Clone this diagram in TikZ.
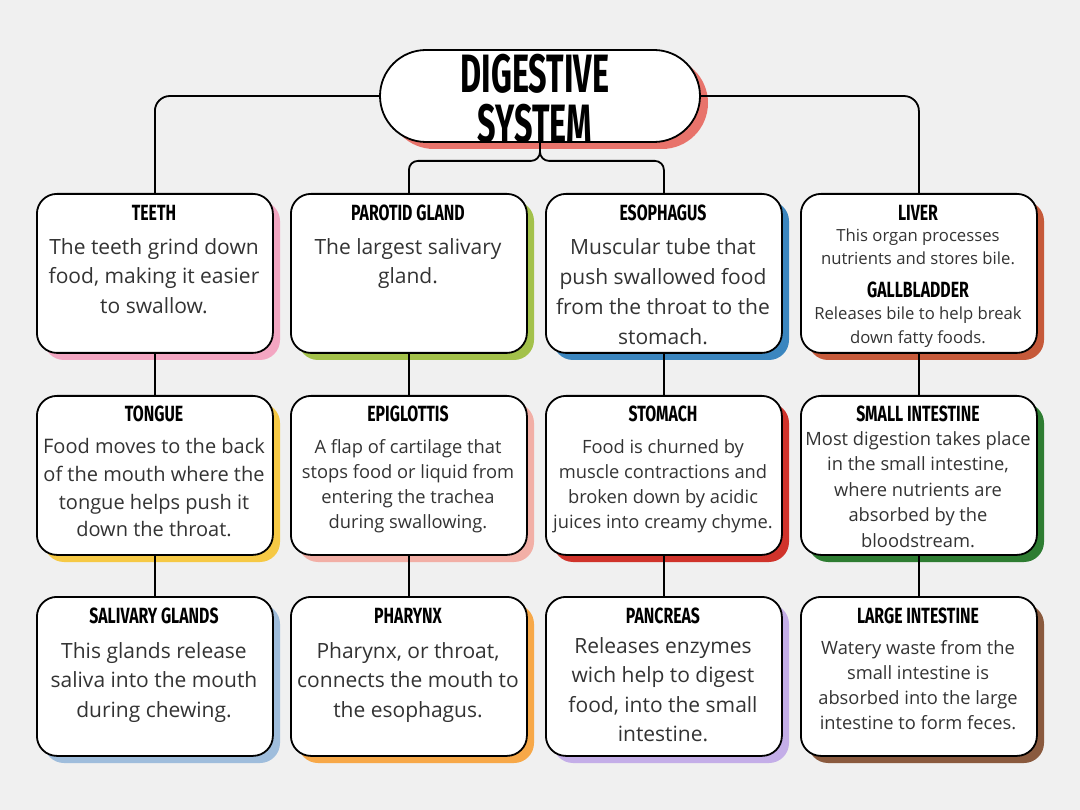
\documentclass[tikz,border=0pt]{standalone}
\usepackage{fontspec}
\setmainfont{Open Sans}
\newfontfamily\headfont[FakeStretch=0.72]{Fira Sans}
\newfontfamily\titlefont[FakeStretch=0.6]{Fira Sans}
\definecolor{bgcol}{HTML}{F0F0F0}
\definecolor{txtgray}{HTML}{333333}
\definecolor{ctitle}{HTML}{E8736B}
\definecolor{cteeth}{HTML}{F3A6C2}
\definecolor{cparotid}{HTML}{A3C14A}
\definecolor{cesoph}{HTML}{3B86BF}
\definecolor{cliver}{HTML}{C65A3A}
\definecolor{ctongue}{HTML}{F6C945}
\definecolor{cepi}{HTML}{F2AFA6}
\definecolor{cstomach}{HTML}{D0332B}
\definecolor{csmall}{HTML}{2E7D32}
\definecolor{csaliv}{HTML}{9FBDDC}
\definecolor{cpharynx}{HTML}{F7A848}
\definecolor{cpancreas}{HTML}{C4AEE8}
\definecolor{clarge}{HTML}{8A5A3E}
\newcommand\mkcard[4]{%
  \fill[#4, rounded corners=20pt] (#2+8,#3+8) rectangle ++(236,159);
  \node[card] (#1) at (#2,#3) {};}
\begin{document}
\begin{tikzpicture}[x=1pt,y=-1pt,
  card/.style={draw=black, line width=1.8pt, fill=white, rounded corners=20pt,
    minimum width=236pt, minimum height=159pt, anchor=north west, inner sep=0pt},
  conn/.style={draw=black, line width=1.8pt},
  head/.style={font=\headfont\bfseries\fontsize{22}{24}\selectfont, text=black, inner sep=0pt},
  body/.style={align=center, anchor=north, inner sep=0pt, text=txtgray},
  bigtxt/.style={font=\fontsize{21}{29.5}\selectfont},
  tongtxt/.style={font=\fontsize{20}{27.7}\selectfont},
  medtxt/.style={font=\fontsize{18.3}{25}\selectfont}]
\fill[bgcol] (0,0) rectangle (1080,810);
\useasboundingbox (0,0) rectangle (1080,810);

% title
\fill[ctitle, rounded corners=46pt] (388,57) rectangle (708,149);
\node[draw=black, line width=1.8pt, fill=white, rounded corners=46pt,
  minimum width=320pt, minimum height=92pt, inner sep=0pt] (title) at (540,96) {};
\node[font=\titlefont\bfseries\fontsize{54}{50}\selectfont, align=center, inner sep=0pt] (titleT) at (535,99) {DIGESTIVE\\SYSTEM};

% cards
\mkcard{teeth}{36}{193}{cteeth}
\mkcard{parotid}{290}{193}{cparotid}
\mkcard{esoph}{545}{193}{cesoph}
\mkcard{liver}{800}{193}{cliver}
\mkcard{tongue}{36}{395}{ctongue}
\mkcard{epi}{290}{395}{cepi}
\mkcard{stomach}{545}{395}{cstomach}
\mkcard{smallint}{800}{395}{csmall}
\mkcard{saliv}{36}{596}{csaliv}
\mkcard{pharynx}{290}{596}{cpharynx}
\mkcard{pancreas}{545}{596}{cpancreas}
\mkcard{largeint}{800}{596}{clarge}

% connectors
\draw[conn, rounded corners=15pt] (title.west) -| (teeth.north);
\draw[conn, rounded corners=15pt] (title.east) -| (liver.north);
\draw[conn, rounded corners=9pt] (title.south) -- ++(0,18) -| (parotid.north);
\draw[conn, rounded corners=9pt] (title.south) -- ++(0,18) -| (esoph.north);
\draw[conn] (teeth.south) -- (tongue.north);
\draw[conn] (tongue.south) -- (saliv.north);
\draw[conn] (parotid.south) -- (epi.north);
\draw[conn] (epi.south) -- (pharynx.north);
\draw[conn] (esoph.south) -- (stomach.north);
\draw[conn] (stomach.south) -- (pancreas.north);
\draw[conn] (liver.south) -- (smallint.north);
\draw[conn] (smallint.south) -- (largeint.north);

% row 1 texts
\node[head] (teethH) at (154,213) {TEETH};
\node[body,bigtxt] (teethT) at (154,238) {The teeth grind down\\food, making it easier\\to swallow.};
\node[head] (parotidH) at (408,213) {PAROTID GLAND};
\node[body,bigtxt] (parotidT) at (408,238) {The largest salivary\\gland.};
\node[head] (esophH) at (663,213) {ESOPHAGUS};
\node[body,font=\fontsize{21}{30}\selectfont] (esophT) at (663,238) {Muscular tube that\\push swallowed food\\from the throat to the\\stomach.};
\node[head] (liverH) at (918,213) {LIVER};
\node[body,font=\fontsize{16.7}{23}\selectfont] (liverT) at (918,228.7) {This organ processes\\nutrients and stores bile.};
\node[head] (gallH) at (918,290) {GALLBLADDER};
\node[body,font=\fontsize{16.7}{24}\selectfont] (gallT) at (918,306.7) {Releases bile to help break\\down fatty foods.};

% row 2 texts
\node[head] (tongueH) at (154,414) {TONGUE};
\node[body,tongtxt] (tongueT) at (154,438.4) {Food moves to the back\\of the mouth where the\\tongue helps push it\\down the throat.};
\node[head] (epiH) at (408,414) {EPIGLOTTIS};
\node[body,medtxt] (epiT) at (408,439) {A flap of cartilage that\\stops food or liquid from\\entering the trachea\\during swallowing.};
\node[head] (stomachH) at (663,414) {STOMACH};
\node[body,medtxt] (stomachT) at (663,439) {Food is churned by\\muscle contractions and\\broken down by acidic\\juices into creamy chyme.};
\node[head] (smallH) at (918,414) {SMALL INTESTINE};
\node[body,font=\fontsize{18.3}{25.5}\selectfont] (smallT) at (918,431) {Most digestion takes place\\in the small intestine,\\where nutrients are\\absorbed by the\\bloodstream.};

% row 3 texts
\node[head] (salivH) at (154,616) {SALIVARY GLANDS};
\node[body,bigtxt] (salivT) at (154,642) {This glands release\\saliva into the mouth\\during chewing.};
\node[head] (pharynxH) at (408,616) {PHARYNX};
\node[body,bigtxt] (pharynxT) at (408,642) {Pharynx, or throat,\\connects the mouth to\\the esophagus.};
\node[head] (pancreasH) at (663,616) {PANCREAS};
\node[body,bigtxt] (pancreasT) at (663,637) {Releases enzymes\\wich help to digest\\food, into the small\\intestine.};
\node[head] (largeH) at (918,616) {LARGE INTESTINE};
\node[body,medtxt] (largeT) at (918,640) {Watery waste from the\\small intestine is\\absorbed into the large\\intestine to form feces.};
\end{tikzpicture}
\end{document}
